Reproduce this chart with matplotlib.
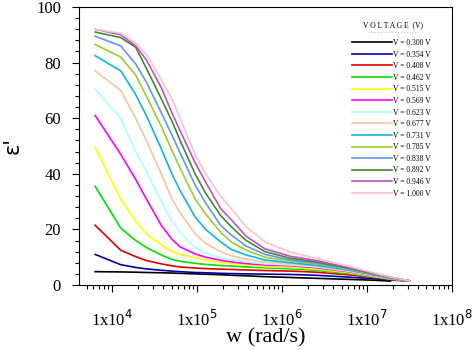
import numpy as np
import matplotlib as mpl
mpl.use('Agg')
import matplotlib.pyplot as plt
from matplotlib.ticker import MultipleLocator, LogLocator, FixedLocator, NullFormatter

# angular frequency (rad/s)
w = [6283, 12566, 18850, 25133, 37699, 50265, 62832, 94248, 125664, 188496,
     251327, 376991, 628319, 1256637, 2513274, 6283185, 12566371, 18849556, 31415927]

voltages = ['0.300', '0.354', '0.408', '0.462', '0.515', '0.569', '0.623',
            '0.677', '0.731', '0.785', '0.838', '0.892', '0.946', '1.000']

colors = ['#000000', '#0000a8', '#e00000', '#00e000', '#ffff00', '#ff00ff', '#aaffff',
          '#f5c3a0', '#10b4e0', '#9acd32', '#6495ed', '#3e8a2e', '#c050c8', '#ffbfcb']

eps = [
    [4.8, 4.7, 4.6, 4.5, 4.4, 4.3, 4.2, 4.0, 3.9, 3.7, 3.5, 3.3, 3.0, 2.7, 2.4, 2.0, 1.7, 1.4, np.nan],
    [11.0, 7.3, 6.3, 5.8, 5.3, 5.0, 4.8, 4.5, 4.4, 4.2, 4.1, 4.0, 3.9, 3.8, 3.5, 2.8, 2.2, 1.8, 1.4],
    [21.5, 12.5, 10.2, 8.8, 7.6, 6.9, 6.5, 6.1, 5.9, 5.7, 5.6, 5.4, 5.2, 5.0, 4.6, 3.6, 2.6, 2.0, 1.5],
    [35.5, 20.5, 16.0, 13.5, 10.8, 9.2, 8.5, 7.8, 7.4, 7.0, 6.8, 6.5, 6.2, 5.8, 5.3, 4.1, 2.8, 2.1, 1.5],
    [49.5, 31.0, 23.0, 18.5, 14.5, 12.0, 11.0, 9.8, 9.0, 8.2, 7.7, 7.2, 6.6, 6.3, 5.7, 4.4, 3.0, 2.2, 1.5],
    [61.0, 47.0, 38.0, 31.0, 21.5, 16.5, 13.7, 11.2, 10.0, 8.9, 8.3, 7.7, 7.2, 6.9, 6.2, 4.7, 3.2, 2.3, 1.5],
    [70.5, 60.0, 48.0, 41.0, 30.0, 23.0, 19.0, 13.5, 11.5, 9.8, 9.0, 8.3, 7.6, 7.2, 6.5, 4.9, 3.3, 2.4, 1.5],
    [77.0, 70.0, 60.0, 52.0, 40.0, 31.0, 26.0, 18.5, 15.0, 12.0, 10.5, 9.3, 8.2, 7.6, 6.8, 5.1, 3.4, 2.5, 1.5],
    [82.5, 77.0, 68.5, 61.0, 49.0, 40.0, 34.0, 24.5, 20.0, 15.5, 12.8, 10.8, 9.0, 8.0, 7.1, 5.3, 3.5, 2.5, 1.5],
    [86.5, 82.0, 75.5, 68.0, 57.0, 48.5, 42.0, 31.0, 25.5, 19.0, 15.5, 12.5, 10.0, 8.6, 7.6, 5.6, 3.7, 2.6, 1.5],
    [89.5, 86.0, 79.5, 73.0, 62.0, 54.0, 47.5, 36.0, 29.5, 21.5, 18.0, 14.0, 11.0, 9.0, 7.9, 5.8, 3.8, 2.7, 1.5],
    [91.0, 89.0, 85.5, 78.0, 67.0, 59.0, 52.0, 40.0, 33.0, 25.0, 21.0, 16.0, 12.0, 9.6, 8.3, 6.0, 3.9, 2.8, 1.5],
    [92.0, 90.0, 86.0, 81.0, 71.0, 62.0, 55.5, 44.0, 37.0, 27.5, 23.5, 17.5, 13.0, 10.3, 8.8, 6.2, 4.0, 2.8, 1.5],
    [92.0, 90.5, 87.0, 83.0, 74.0, 67.0, 60.0, 47.0, 40.0, 32.0, 27.5, 21.0, 15.5, 11.8, 9.6, 6.6, 4.2, 2.9, 1.5],
]

serif = 'Liberation Serif'

fig = plt.figure(figsize=(4.74, 3.5), dpi=100)
ax = fig.add_axes([79/474, 1 - 285/350, (452 - 79)/474, (285 - 7)/350])

for v, c, y in zip(voltages, colors, eps):
    ax.plot(w, y, color=c, lw=1.2, label='V = %s V' % v)

ax.set_xscale('log')
ax.set_xlim(4050, 1e8)
ax.set_ylim(0, 100)

ax.xaxis.set_major_locator(FixedLocator([1e4, 1e5, 1e6, 1e7, 1e8]))
ax.xaxis.set_minor_locator(LogLocator(base=10, subs=np.arange(2, 10)))
ax.xaxis.set_minor_formatter(NullFormatter())
ax.set_xticklabels([r'1x10$^{%d}$' % k for k in range(4, 9)])
ax.yaxis.set_major_locator(MultipleLocator(20))
ax.yaxis.set_minor_locator(MultipleLocator(4))

ax.tick_params(which='both', direction='out', top=False, right=False, width=0.8)
ax.tick_params(which='major', length=5, labelsize=12, pad=8)
ax.tick_params(axis='x', which='major', pad=13)
ax.tick_params(which='minor', length=3)
for lab in ax.get_xticklabels() + ax.get_yticklabels():
    lab.set_family(serif)
for s in ax.spines.values():
    s.set_linewidth(0.8)

ax.set_xlabel('w (rad/s)', family=serif, fontsize=16, labelpad=-1)
ax.set_ylabel("ε'", family='DejaVu Sans', fontsize=15, labelpad=10)

leg = ax.legend(loc='upper left', bbox_to_anchor=(0.732, 0.885), frameon=False,
                prop={'family': serif, 'size': 5.5}, handlelength=5.2,
                handletextpad=0.1, labelspacing=0.47, borderpad=0, borderaxespad=0)
ax.text(0.842, 0.933, 'V O L T A G E  (V)', transform=ax.transAxes, ha='center', va='center',
        family=serif, fontsize=5.5)
ax.text(0.842, 0.906, '- - - - - - - - - - - - - - - - -', transform=ax.transAxes, ha='center',
        va='center', family=serif, fontsize=3.5, color='#444444')

fig.savefig('out.png', dpi=100)
